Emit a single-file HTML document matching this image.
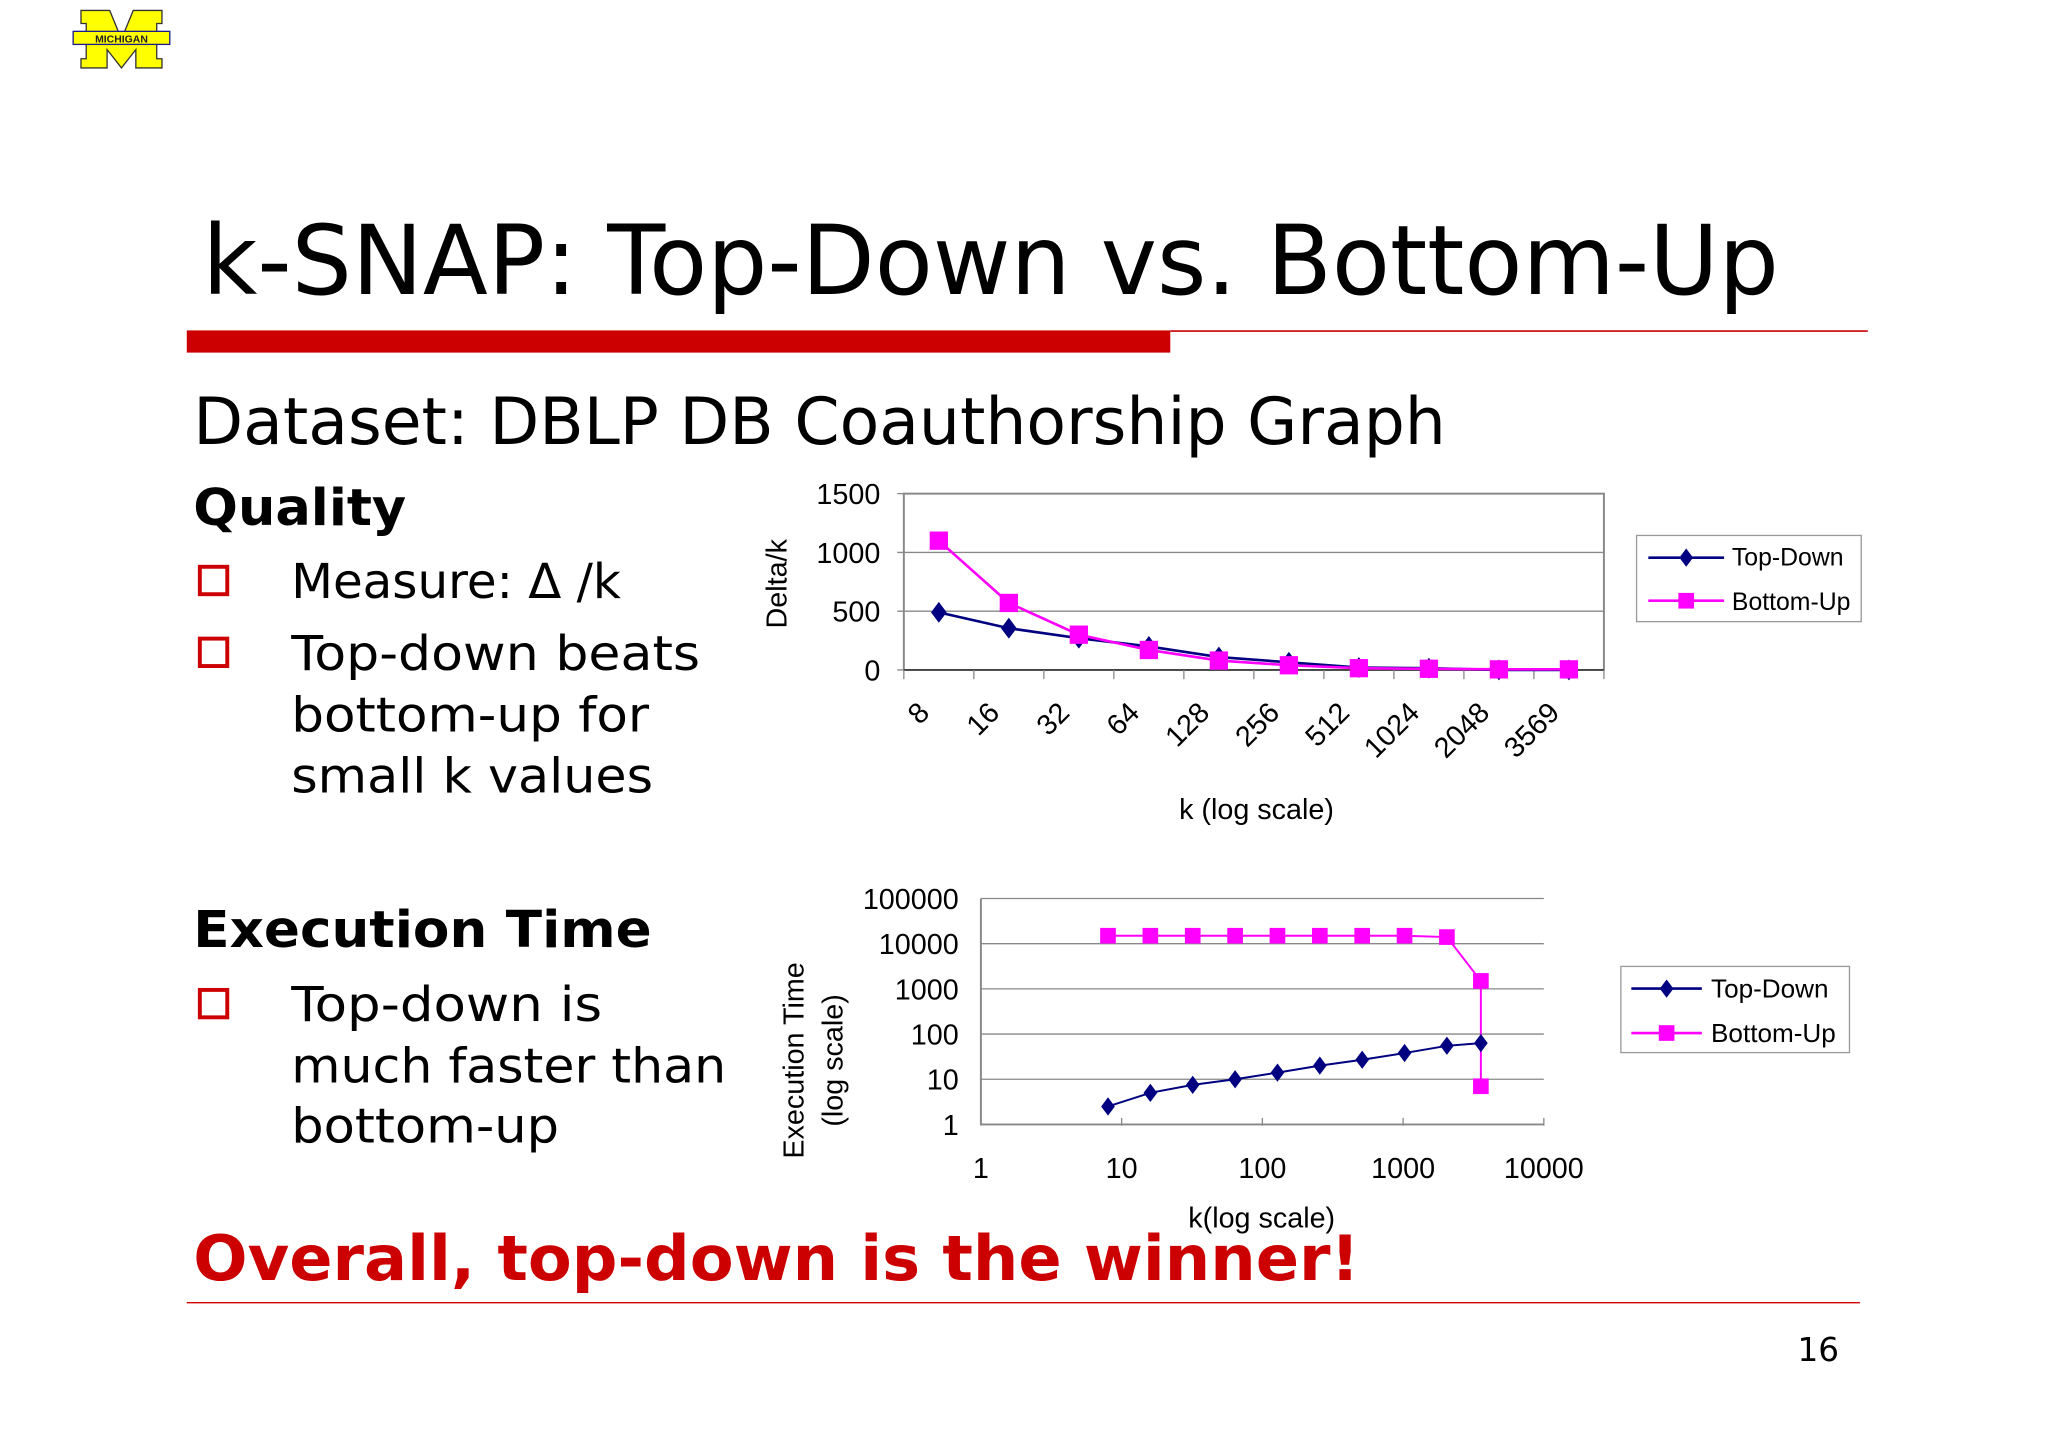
<!DOCTYPE html>
<html><head><meta charset="utf-8"><style>
html,body{margin:0;padding:0;background:#fff;}
svg{display:block;}
text{font-family:"DejaVu Sans","Liberation Sans",sans-serif;}
.ar{font-family:"Liberation Sans",sans-serif;}
</style></head><body>
<svg id="page" width="2048" height="1447" viewBox="0 0 1568 1108" preserveAspectRatio="none" xmlns="http://www.w3.org/2000/svg">
<rect width="1568" height="1108" fill="#fff"/>
<g>
<path d="M62,8 L84,8 L93,30 L102,8 L124,8 L124,18 L120,18 L120,45 L124,45 L124,52 L104,52 L104,38 L93,52 L82,38 L82,52 L62,52 L62,45 L66,45 L66,18 L62,18 Z" fill="#ffff00" stroke="#333" stroke-width="1"/>
<rect x="56" y="24" width="74" height="10" fill="#ffff00" stroke="#1a1a8c" stroke-width="1"/>
<text x="93" y="32.5" font-size="8" text-anchor="middle" font-weight="bold" fill="#222" class="ar">MICHIGAN</text>
</g>
<text x="155" y="225" font-size="74" textLength="1207" lengthAdjust="spacingAndGlyphs" fill="#000">k-SNAP: Top-Down vs. Bottom-Up</text>
<rect x="143" y="253" width="753" height="17" fill="#cc0000"/>
<line x1="896" y1="253.5" x2="1430" y2="253.5" stroke="#cc0000" stroke-width="1.2"/>
<text x="148" y="340" font-size="50" textLength="959" lengthAdjust="spacingAndGlyphs" fill="#000">Dataset: DBLP DB Coauthorship Graph</text>
<text x="148" y="402" font-size="39" font-weight="bold" textLength="163" lengthAdjust="spacingAndGlyphs">Quality</text>
<g fill="none" stroke="#cc0000" stroke-width="3">
<rect x="153" y="434" width="21" height="21"/>
<rect x="153" y="489" width="21" height="21"/>
<rect x="153" y="758" width="21" height="21"/>
</g>
<g font-size="37" fill="#000">
<text x="223" y="458">Measure:  Δ /k</text>
<text x="223" y="513" textLength="313" lengthAdjust="spacingAndGlyphs">Top-down beats</text>
<text x="223" y="560" textLength="274" lengthAdjust="spacingAndGlyphs">bottom-up for</text>
<text x="223" y="607" textLength="277" lengthAdjust="spacingAndGlyphs">small k values</text>
<text x="223" y="782" textLength="238" lengthAdjust="spacingAndGlyphs">Top-down is</text>
<text x="223" y="829" textLength="333" lengthAdjust="spacingAndGlyphs">much faster than</text>
<text x="223" y="875" textLength="205" lengthAdjust="spacingAndGlyphs">bottom-up</text>
</g>
<text x="148" y="725" font-size="39" font-weight="bold" textLength="351" lengthAdjust="spacingAndGlyphs">Execution Time</text>
<text x="148" y="980" font-size="48" font-weight="bold" fill="#cc0000" textLength="893" lengthAdjust="spacingAndGlyphs">Overall, top-down is the winner!</text>
<line x1="143" y1="997.5" x2="1424" y2="997.5" stroke="#cc0000" stroke-width="1"/>
<text x="1408" y="1042" font-size="25" text-anchor="end">16</text>

<g id="chart1"></g>
<g id="chart2"></g>
</svg>
<script>
const NS='http://www.w3.org/2000/svg';
// Chart 1 data
const c1Categories=['8','16','32','64','128','256','512','1024','2048','3569'];
const c1TopDown=[490,355,270,200,110,65,20,15,0,0];
const c1BottomUp=[1100,570,300,170,80,40,15,10,5,5];
const c1YTicks=[0,500,1000,1500];
// Chart 2 data
const c2KTopDown=[8,16,32,64,128,256,512,1024,2048,3569];
const c2TopDown=[2.5,5,7.5,10,14,20,27,38,55,63];
const c2KBottomUp=[8,16,32,64,128,256,512,1024,2048,3569,3569];
const c2BottomUp=[15000,15000,15000,15000,15000,15000,15000,15000,14000,1500,7];
const c2YTicks=[1,10,100,1000,10000,100000];
const c2XTicks=[1,10,100,1000,10000];

function mk(parent,tag,attrs,txt){const e=document.createElementNS(NS,tag);for(const k in attrs)e.setAttribute(k,attrs[k]);if(txt!==undefined)e.textContent=txt;parent.appendChild(e);return e;}
const NAVY='#000080',MAG='#ff00ff';
function diamond(g,x,y,r){return mk(g,'path',{d:`M${x},${y-r}L${x+r*0.75},${y}L${x},${y+r}L${x-r*0.75},${y}Z`,fill:NAVY});}
function square(g,x,y,r){return mk(g,'rect',{x:x-r,y:y-r,width:2*r,height:2*r,fill:MAG});}

// ---------- Chart 1 ----------
(function(){
const g=document.getElementById('chart1');
const L=692,R=1228,T=378,B=513,n=c1Categories.length,cw=(R-L)/n;
const x=i=>L+cw*(i+0.5);
const y=v=>B-(v/1500)*(B-T);
mk(g,'rect',{x:L,y:T,width:R-L,height:B-T,fill:'none',stroke:'#888','stroke-width':1.5});
c1YTicks.forEach(v=>{
 const gl=mk(g,'line',{x1:L-5,x2:R,y1:y(v),y2:y(v),stroke:'#888','stroke-width':1});
 
 
 const t=mk(g,'text',{x:674,y:y(v)+8,'font-size':22,'text-anchor':'end',class:'ar'},String(v));
 
 
});
mk(g,'line',{x1:L,x2:R,y1:B,y2:B,stroke:'#444','stroke-width':1.5});
for(let i=0;i<=n;i++){mk(g,'line',{x1:L+cw*i,x2:L+cw*i,y1:B,y2:B+7,stroke:'#888','stroke-width':1});}
c1Categories.forEach((c,i)=>{
 const t=mk(g,'text',{x:x(i)-6,y:547,'font-size':22,'text-anchor':'end',class:'ar',transform:`rotate(-45 ${x(i)-6} 547)`},c);
 
 
});
const xt=mk(g,'text',{x:962,y:627,'font-size':22,'text-anchor':'middle',class:'ar'},'k (log scale)');


const yt=mk(g,'text',{x:0,y:0,'font-size':22,'text-anchor':'middle',class:'ar',transform:'translate(602,447) rotate(-90)'},'Delta/k');


const l1=mk(g,'polyline',{points:c1TopDown.map((v,i)=>x(i)+','+y(v)).join(' '),fill:'none',stroke:NAVY,'stroke-width':2});


c1TopDown.forEach((v,i)=>{const m=diamond(g,x(i),y(v),8);
 
 });
const l2=mk(g,'polyline',{points:c1BottomUp.map((v,i)=>x(i)+','+y(v)).join(' '),fill:'none',stroke:MAG,'stroke-width':2});


c1BottomUp.forEach((v,i)=>{const m=square(g,x(i),y(v),7);
 
 });
const lg=mk(g,'g',{});


mk(lg,'rect',{x:1253,y:410,width:172,height:66,fill:'#fff',stroke:'#999','stroke-width':1});
mk(lg,'line',{x1:1262,x2:1320,y1:427,y2:427,stroke:NAVY,'stroke-width':2});diamond(lg,1291,427,7);
mk(lg,'text',{x:1326,y:433,'font-size':19,class:'ar'},'Top-Down');
mk(lg,'line',{x1:1262,x2:1320,y1:460,y2:460,stroke:MAG,'stroke-width':2});square(lg,1291,460,6);
mk(lg,'text',{x:1326,y:467,'font-size':19,class:'ar'},'Bottom-Up');
})();

// ---------- Chart 2 ----------
(function(){
const g=document.getElementById('chart2');
const L=751,R=1182,T=688,B=861;
const x=k=>L+Math.log10(k)/4*(R-L);
const y=v=>B-Math.log10(v)/5*(B-T);
c2YTicks.forEach(v=>{
 const gl=mk(g,'line',{x1:L,x2:R,y1:y(v),y2:y(v),stroke:'#888','stroke-width':1});
 
 
 const t=mk(g,'text',{x:734,y:y(v)+8,'font-size':22,'text-anchor':'end',class:'ar'},String(v));
 
 
});
mk(g,'line',{x1:L,x2:L,y1:T,y2:B,stroke:'#888','stroke-width':1.5});
mk(g,'line',{x1:L,x2:R,y1:B,y2:B,stroke:'#888','stroke-width':1.5});
c2XTicks.forEach(k=>{
 mk(g,'line',{x1:x(k),x2:x(k),y1:B-5,y2:B+1,stroke:'#888','stroke-width':1});
 const t=mk(g,'text',{x:x(k),y:902,'font-size':22,'text-anchor':'middle',class:'ar'},String(k));
 
 
});
const xt=mk(g,'text',{x:966,y:940,'font-size':22,'text-anchor':'middle',class:'ar'},'k(log scale)');


const yt=mk(g,'text',{x:0,y:0,'font-size':22,'text-anchor':'middle',class:'ar',transform:'translate(615,812) rotate(-90)'},'Execution Time');


const yt2=mk(g,'text',{x:0,y:0,'font-size':22,'text-anchor':'middle',class:'ar',transform:'translate(645,812) rotate(-90)'},'(log scale)');


const l2=mk(g,'polyline',{points:c2BottomUp.map((v,i)=>x(c2KBottomUp[i])+','+y(v)).join(' '),fill:'none',stroke:MAG,'stroke-width':1.5});


c2BottomUp.forEach((v,i)=>{const m=square(g,x(c2KBottomUp[i]),y(v),6);
 
 });
const l1=mk(g,'polyline',{points:c2TopDown.map((v,i)=>x(c2KTopDown[i])+','+y(v)).join(' '),fill:'none',stroke:NAVY,'stroke-width':1.5});


c2TopDown.forEach((v,i)=>{const m=diamond(g,x(c2KTopDown[i]),y(v),7);
 
 });
const lg=mk(g,'g',{});


mk(lg,'rect',{x:1241,y:740,width:175,height:66,fill:'#fff',stroke:'#999','stroke-width':1});
mk(lg,'line',{x1:1249,x2:1303,y1:757,y2:757,stroke:NAVY,'stroke-width':2});diamond(lg,1276,757,7);
mk(lg,'text',{x:1310,y:764,'font-size':20,class:'ar'},'Top-Down');
mk(lg,'line',{x1:1249,x2:1303,y1:791,y2:791,stroke:MAG,'stroke-width':2});square(lg,1276,791,6);
mk(lg,'text',{x:1310,y:798,'font-size':20,class:'ar'},'Bottom-Up');
})();
</script>
</body></html>
